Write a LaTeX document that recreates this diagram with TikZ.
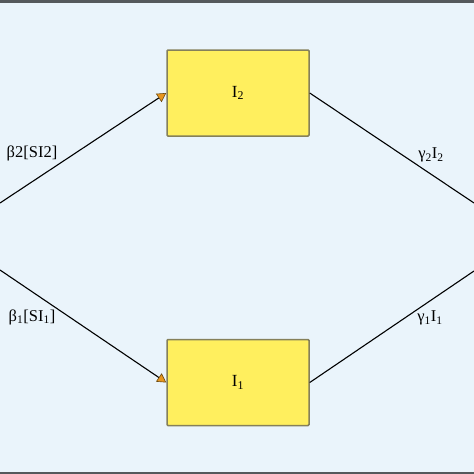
\documentclass[tikz,border=0pt]{standalone}
\usepackage{fontspec}
\setmainfont{Liberation Serif}
\usetikzlibrary{arrows.meta}
\definecolor{bg}{HTML}{EAF4FB}
\definecolor{bar}{HTML}{55595C}
\definecolor{boxfill}{HTML}{FFEF5E}
\definecolor{boxline}{HTML}{85805A}
\definecolor{tipfill}{HTML}{E8961E}
\definecolor{tipline}{HTML}{6B4A10}
\tikzset{
  comp/.style={draw=boxline, line width=1.5pt, fill=boxfill, rounded corners=1pt,
    minimum width=142pt, minimum height=86pt, inner sep=0pt, font=\fontsize{17}{19}\selectfont},
  flow/.style={draw=black, line width=1.1pt},
  flowarrow/.style={flow, -{Triangle[length=9pt,width=10pt,fill=tipfill,color=tipline,line width=0.6pt]}},
  lbl/.style={font=\fontsize{16.5}{19}\selectfont, inner sep=0pt}
}
\begin{document}
\begin{tikzpicture}[x=1pt,y=-1pt]
\useasboundingbox (0,0) rectangle (474,474);
\fill[bg] (0,0) rectangle (474,474);
\fill[bar] (0,0) rectangle (474,3);
\fill[bar] (0,471.5) rectangle (474,474);
\node[comp] (I2) at (238,93) {I\textsubscript{2}};
\node[comp] (I1) at (238,382.5) {I\textsubscript{1}};
\coordinate (L2) at (0,203);
\coordinate (R2) at (474,203);
\coordinate (L1) at (0,270);
\coordinate (R1) at (474,271);
\draw[flowarrow] (L2) -- (I2.west);
\draw[flow] (I2.east) -- (R2);
\draw[flowarrow] (L1) -- (I1.west);
\draw[flow] (I1.east) -- (R1);
\node[lbl] (b2) at (32,153) {β2[SI2]};
\node[lbl] (b1) at (32,317) {β\textsubscript{1}[SI\textsubscript{1}]};
\node[lbl] (g2) at (431,155) {γ\textsubscript{2}I\textsubscript{2}};
\node[lbl] (g1) at (430,318) {γ\textsubscript{1}I\textsubscript{1}};
\end{tikzpicture}
\end{document}
